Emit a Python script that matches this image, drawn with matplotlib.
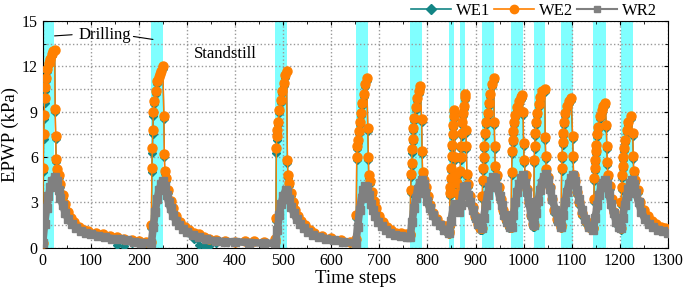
import numpy as np
import matplotlib.pyplot as plt
from matplotlib.lines import Line2D
from matplotlib.ticker import MultipleLocator

plt.rcParams['font.family'] = ['Liberation Serif', 'DejaVu Serif']

# drilling periods (time steps)
drill_start = [0, 226, 484, 651, 764, 845, 867, 913, 974, 1021, 1078, 1145, 1202]
drill_end = [24, 251, 509, 676, 789, 856, 879, 939, 999, 1045, 1102, 1172, 1228]

# WE1 / WE2 : time steps and values (kPa)
t_we = [0, 1, 2, 3, 4, 5, 7, 10, 13, 16, 19, 22, 25, 26, 27, 28, 30, 33, 37, 42, 47, 52, 58, 65, 75, 85, 95,
        110, 125, 140, 155, 170, 185, 200, 215, 225,
        226, 227, 228, 229, 230, 232, 235, 238, 241, 244, 247, 250, 252, 253, 254, 257, 261, 266, 271, 277, 285,
        295, 305, 315, 325, 335, 345, 360, 380, 400, 420, 440, 460, 483,
        484, 485, 486, 487, 488, 490, 492, 495, 498, 501, 504, 507, 509, 510, 512, 516, 520, 525, 530, 537, 545,
        555, 565, 580, 600, 620, 640, 650,
        651, 652, 653, 654, 655, 657, 659, 662, 665, 668, 671, 674, 676, 677, 678, 680, 684, 688, 693, 700, 708,
        716, 725, 735, 745, 755, 763,
        764, 765, 766, 767, 768, 769, 771, 773, 776, 779, 782, 785, 788, 789, 790, 793, 797, 801, 806, 812, 820,
        830, 840, 844,
        845, 846, 847, 848, 849, 850, 851, 852, 853, 854, 855, 856, 857, 858, 861, 864, 867, 868, 869, 870, 871,
        872, 874, 876, 878, 879, 880, 881, 882, 885, 889, 894, 899, 905, 910, 912,
        913, 914, 915, 916, 917, 918, 920, 922, 925, 928, 931, 934, 938, 939, 940, 941, 944, 948, 953, 958, 964,
        970, 973,
        974, 975, 976, 977, 978, 980, 983, 986, 990, 994, 997, 999, 1000, 1001, 1004, 1008, 1012, 1016, 1020,
        1021, 1022, 1023, 1024, 1026, 1028, 1031, 1035, 1039, 1044, 1045, 1046, 1047, 1050, 1054, 1059, 1064,
        1070, 1077,
        1078, 1079, 1080, 1081, 1082, 1084, 1087, 1090, 1094, 1099, 1102, 1103, 1104, 1107, 1111, 1116, 1122,
        1129, 1137, 1144,
        1145, 1146, 1147, 1148, 1149, 1150, 1151, 1153, 1155, 1158, 1162, 1166, 1170, 1172, 1173, 1174, 1175,
        1179, 1184, 1189, 1195, 1201,
        1202, 1203, 1204, 1205, 1206, 1207, 1209, 1211, 1214, 1218, 1223, 1227, 1228, 1229, 1232, 1237, 1243,
        1250, 1258, 1266, 1275, 1285, 1295, 1300]

we2 = [0.3, 5.3, 7.5, 8.8, 9.9, 10.6, 11.2, 11.8, 12.2, 12.5, 12.8, 13.0, 13.1, 9.2, 7.4, 5.9, 5.2, 4.8, 4.2,
       3.5, 2.9, 2.4, 2.0, 1.7, 1.4, 1.2, 1.1, 1.0, 0.9, 0.8, 0.7, 0.6, 0.5, 0.45, 0.4, 0.4,
       1.5, 5.3, 6.6, 7.8, 9.0, 9.7, 10.4, 11.0, 11.3, 11.5, 11.7, 12.0, 8.7, 6.2, 5.1, 4.6, 3.8, 3.1, 2.6, 2.1,
       1.7, 1.4, 1.2, 1.0, 0.9, 0.7, 0.6, 0.5, 0.45, 0.4, 0.45, 0.45, 0.4, 0.4,
       0.6, 2.0, 6.6, 7.4, 7.8, 8.3, 9.1, 9.8, 10.4, 10.9, 11.4, 11.7, 5.8, 4.8, 4.3, 3.6, 3.0, 2.5, 2.1, 1.8,
       1.5, 1.2, 1.0, 0.8, 0.65, 0.5, 0.4, 0.4,
       0.6, 2.2, 6.0, 6.7, 7.1, 7.7, 8.3, 8.9, 9.6, 10.2, 10.8, 11.2, 7.9, 6.0, 4.8, 4.4, 3.7, 3.1, 2.6, 2.1,
       1.7, 1.4, 1.2, 1.0, 0.95, 0.9, 0.85,
       0.9, 3.8, 4.9, 5.6, 6.5, 7.2, 7.9, 8.6, 9.3, 9.9, 10.4, 10.7, 8.5, 6.4, 5.0, 4.5, 4.0, 3.4, 2.8, 2.3,
       1.9, 1.5, 1.2, 1.1,
       1.0, 1.6, 3.6, 4.0, 4.6, 5.3, 6.1, 6.8, 7.5, 8.1, 8.7, 9.1, 6.0, 4.8, 4.3, 3.6, 3.3, 5.1, 6.0, 6.7, 7.6,
       8.3, 8.9, 9.4, 10.0, 10.2, 7.8, 6.7, 4.9, 4.2, 3.4, 2.7, 2.1, 1.6, 1.3, 1.3,
       1.3, 3.4, 4.5, 5.3, 6.0, 6.7, 7.6, 8.3, 8.9, 9.6, 10.2, 10.8, 11.2, 8.3, 6.7, 5.4, 4.8, 4.0, 3.2, 2.5,
       1.9, 1.5, 1.4,
       1.4, 5.0, 6.4, 7.1, 7.7, 8.3, 8.8, 9.3, 9.7, 10.0, 10.1, 9.0, 6.9, 5.8, 4.8, 3.9, 3.0, 2.2, 1.6,
       1.5, 5.8, 6.7, 7.6, 8.3, 8.9, 9.5, 10.0, 10.4, 10.5, 7.3, 6.1, 5.2, 4.7, 4.0, 3.2, 2.5, 1.9, 1.5,
       1.4, 5.3, 6.1, 7.0, 7.6, 8.3, 8.9, 9.4, 9.7, 9.9, 7.4, 6.1, 4.8, 4.4, 3.7, 3.0, 2.3, 1.8, 1.4, 1.3,
       1.3, 3.2, 4.6, 5.3, 5.8, 6.4, 6.8, 7.5, 8.0, 8.7, 9.1, 9.4, 9.6, 8.1, 6.7, 5.7, 4.8, 4.1, 3.2, 2.4,
       1.7, 1.4,
       1.3, 3.0, 4.0, 4.8, 5.4, 6.0, 6.6, 7.1, 7.8, 8.3, 8.7, 7.6, 6.1, 5.1, 4.5, 3.8, 3.0, 2.5, 2.1, 1.8,
       1.6, 1.4, 1.3, 1.2]

we1 = [0.3, 5.0, 7.2, 8.5, 9.6, 10.4, 11.0, 11.6, 12.1, 12.4, 12.7, 12.9, 13.0, 9.0, 7.2, 5.7, 5.0, 4.6, 4.0,
       3.3, 2.7, 2.2, 1.8, 1.5, 1.2, 1.05, 0.95, 0.85, 0.7, 0.55, 0.2, 0.1, 0.3, 0.4, 0.35, 0.35,
       1.3, 5.0, 6.3, 7.5, 8.7, 9.5, 10.2, 10.8, 11.2, 11.4, 11.6, 11.8, 8.5, 6.0, 4.9, 4.4, 3.6, 2.9, 2.4, 1.9,
       1.5, 1.2, 1.0, 0.6, 0.2, 0.1, 0.1, 0.3, 0.4, 0.4, 0.45, 0.45, 0.4, 0.35,
       0.5, 1.8, 6.3, 7.1, 7.6, 8.1, 8.9, 9.6, 10.2, 10.7, 11.2, 11.6, 5.6, 4.6, 4.1, 3.4, 2.8, 2.3, 1.9, 1.6,
       1.3, 1.0, 0.85, 0.7, 0.6, 0.45, 0.35, 0.35,
       0.5, 2.0, 5.8, 6.5, 6.9, 7.5, 8.1, 8.7, 9.4, 10.0, 10.6, 11.0, 7.7, 5.8, 4.6, 4.2, 3.5, 2.9, 2.4, 1.9,
       1.5, 1.2, 1.0, 0.9, 0.85, 0.8, 0.75,
       0.8, 3.6, 4.7, 5.4, 6.3, 7.0, 7.7, 8.4, 9.1, 9.7, 10.2, 10.5, 8.3, 6.2, 4.8, 4.3, 3.8, 3.2, 2.6, 2.1,
       1.7, 1.3, 1.0, 0.9,
       0.9, 1.4, 3.4, 3.8, 4.4, 5.1, 5.9, 6.6, 7.3, 7.9, 8.5, 8.9, 5.8, 4.6, 4.1, 3.4, 3.1, 4.9, 5.8, 6.5, 7.4,
       8.1, 8.7, 9.2, 9.8, 10.0, 7.6, 6.5, 4.7, 4.0, 3.2, 2.5, 1.9, 1.4, 1.2, 1.2,
       1.2, 3.2, 4.3, 5.1, 5.8, 6.5, 7.4, 8.1, 8.7, 9.4, 10.0, 10.6, 11.0, 8.1, 6.5, 5.2, 4.6, 3.8, 3.0, 2.3,
       1.7, 1.3, 1.3,
       1.3, 4.8, 6.2, 6.9, 7.5, 8.1, 8.6, 9.1, 9.5, 9.8, 9.9, 8.8, 6.7, 5.6, 4.6, 3.7, 2.8, 2.0, 1.4,
       1.4, 5.6, 6.5, 7.4, 8.1, 8.7, 9.3, 9.8, 10.2, 10.3, 7.1, 5.9, 5.0, 4.5, 3.8, 3.0, 2.3, 1.7, 1.4,
       1.3, 5.1, 5.9, 6.8, 7.4, 8.1, 8.7, 9.2, 9.5, 9.7, 7.2, 5.9, 4.6, 4.2, 3.5, 2.8, 2.1, 1.6, 1.3, 1.2,
       1.2, 3.0, 4.4, 5.1, 5.6, 6.2, 6.6, 7.3, 7.8, 8.5, 8.9, 9.2, 9.4, 7.9, 6.5, 5.5, 4.6, 3.9, 3.0, 2.2,
       1.5, 1.3,
       1.2, 2.8, 3.8, 4.6, 5.2, 5.8, 6.4, 6.9, 7.6, 8.1, 8.5, 7.4, 5.9, 4.9, 4.3, 3.6, 2.8, 2.3, 1.9, 1.6,
       1.4, 1.3, 1.2, 1.1]

# WR2 : time steps and values (kPa)
t_wr = [0, 4, 8, 12, 16, 20, 25, 29, 33, 37, 42, 47, 53, 60, 70, 80, 90, 100, 115, 130, 145, 160, 175, 190,
        205, 226,
        230, 234, 238, 242, 246, 250, 254, 258, 262, 266, 271, 277, 284, 292, 300, 312, 325, 340, 360, 380,
        400, 430, 460, 484,
        488, 492, 496, 500, 505, 509, 513, 517, 522, 528, 535, 543, 552, 562, 575, 590, 605, 625, 651,
        655, 659, 663, 667, 671, 675, 679, 683, 687, 692, 698, 705, 713, 722, 732, 745, 757, 764,
        768, 772, 776, 780, 784, 788, 792, 796, 800, 805, 811, 818, 826, 835, 845,
        849, 853, 857, 861, 865, 869, 873, 877, 881, 885, 889, 894, 900, 906, 913,
        917, 921, 925, 929, 933, 937, 941, 945, 950, 955, 960, 966, 971, 975,
        979, 983, 987, 991, 995, 999, 1003, 1007, 1011, 1015, 1019, 1022,
        1026, 1030, 1034, 1038, 1042, 1046, 1050, 1055, 1060, 1066, 1072, 1078,
        1082, 1086, 1090, 1094, 1098, 1102, 1106, 1111, 1116, 1122, 1128, 1135, 1145,
        1149, 1153, 1157, 1161, 1165, 1169, 1173, 1177, 1182, 1187, 1193, 1198, 1202,
        1206, 1210, 1214, 1218, 1222, 1226, 1230, 1234, 1239, 1245, 1252, 1260, 1270, 1280, 1290, 1300]

wr2 = [0.3, 1.6, 2.6, 3.4, 4.0, 4.4, 4.7, 4.4, 3.8, 3.3, 2.8, 2.3, 1.9, 1.6, 1.3, 1.1, 1.0, 0.9, 0.8, 0.7,
       0.6, 0.55, 0.5, 0.4, 0.35, 0.3,
       1.4, 2.4, 3.2, 3.8, 4.2, 4.4, 4.1, 3.5, 3.0, 2.6, 2.2, 1.8, 1.5, 1.25, 1.05, 0.85, 0.7, 0.55, 0.45, 0.4,
       0.4, 0.35, 0.3, 0.3,
       1.2, 2.2, 2.9, 3.4, 3.8, 3.7, 3.2, 2.7, 2.3, 1.9, 1.6, 1.3, 1.05, 0.85, 0.7, 0.6, 0.5, 0.4, 0.3,
       1.4, 2.5, 3.3, 3.8, 4.1, 4.0, 3.5, 2.9, 2.5, 2.1, 1.7, 1.45, 1.2, 1.0, 0.85, 0.75, 0.7, 0.7,
       1.7, 2.6, 3.3, 3.9, 4.3, 4.5, 4.2, 3.6, 3.1, 2.6, 2.2, 1.8, 1.5, 1.2, 1.0,
       1.8, 2.5, 2.9, 2.6, 2.4, 2.8, 3.5, 4.0, 4.1, 3.5, 3.0, 2.5, 2.0, 1.6, 1.3,
       2.0, 2.8, 3.5, 4.0, 4.4, 4.7, 4.6, 4.0, 3.4, 2.8, 2.2, 1.7, 1.4, 1.4,
       2.2, 3.0, 3.7, 4.2, 4.6, 4.8, 4.3, 3.7, 3.0, 2.3, 1.7, 1.5,
       2.3, 3.1, 3.8, 4.3, 4.7, 4.9, 4.5, 3.9, 3.2, 2.5, 1.8, 1.4,
       2.2, 3.0, 3.7, 4.2, 4.6, 4.8, 4.4, 3.8, 3.2, 2.5, 1.9, 1.4, 1.2,
       2.0, 2.8, 3.5, 4.0, 4.3, 4.5, 4.2, 3.6, 2.9, 2.3, 1.7, 1.4, 1.3,
       2.0, 2.8, 3.4, 3.9, 4.3, 4.5, 4.2, 3.6, 3.0, 2.4, 1.9, 1.6, 1.35, 1.2, 1.1, 1.0]

c_we1, c_we2, c_wr2 = '#138585', '#ff8000', '#808080'

fig = plt.figure(figsize=(6.85, 2.95), dpi=100)
ax = fig.add_axes([0.0623, 0.160, 0.9127, 0.769])

for s, e in zip(drill_start, drill_end):
    ax.axvspan(s, e, color='#80ffff', lw=0, zorder=0)

ax.plot(t_we, we1, '-', color=c_we1, lw=1, marker='D', ms=4.5, zorder=3)
ax.plot(t_we, we2, '-', color=c_we2, lw=1, marker='o', ms=6.5, zorder=4)
ax.plot(t_wr, wr2, '-', color=c_wr2, lw=5.5, marker='s', ms=6, zorder=5)

ax.set_xlim(0, 1300)
ax.set_ylim(0, 15)
ax.xaxis.set_major_locator(MultipleLocator(100))
ax.xaxis.set_minor_locator(MultipleLocator(50))
ax.yaxis.set_major_locator(MultipleLocator(3))
ax.yaxis.set_minor_locator(MultipleLocator(1.5))
ax.tick_params(which='both', direction='in', top=True, right=True, labelsize=11.5)
ax.tick_params(which='major', length=3)
ax.tick_params(which='minor', length=2)
ax.grid(True, which='major', axis='x', linestyle=':', color='#999999', lw=1)
ax.grid(True, which='both', axis='y', linestyle=':', color='#999999', lw=1)
ax.set_axisbelow(True)

ax.set_xlabel('Time steps', fontsize=13.5, labelpad=1)
ax.set_ylabel('EPWP (kPa)', fontsize=13.5, labelpad=2)

ax.text(130, 14.1, 'Drilling', fontsize=12, ha='center', va='center')
ax.annotate('', xy=(19, 14.0), xytext=(67, 14.1), arrowprops=dict(arrowstyle='-', color='black', lw=0.8))
ax.annotate('', xy=(235, 13.75), xytext=(183, 14.0), arrowprops=dict(arrowstyle='-', color='black', lw=0.8))
ax.text(380, 12.8, 'Standstill', fontsize=12, ha='center', va='center')

handles = [Line2D([], [], color=c_we1, lw=1.2, marker='D', ms=5),
           Line2D([], [], color=c_we2, lw=1.2, marker='o', ms=6),
           Line2D([], [], color=c_wr2, lw=1.5, marker='s', ms=5)]
fig.legend(handles, ['WE1', 'WE2', 'WR2'], loc='center', bbox_to_anchor=(534 / 685, 1 - 11 / 295), ncol=3,
           frameon=False, fontsize=12, handlelength=2.4, handletextpad=0.3, columnspacing=0.2, borderpad=0)

fig.savefig('out.png', dpi=100)
